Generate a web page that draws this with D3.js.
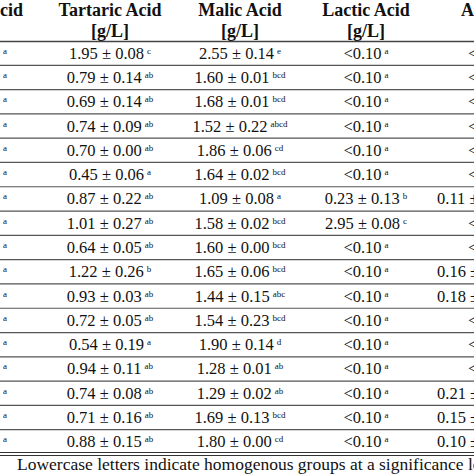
<!DOCTYPE html>
<html><head><meta charset="utf-8">
<script src="https://cdn.jsdelivr.net/npm/d3@7"></script>
<style>body{margin:0;background:#fff}svg{display:block}</style>
</head><body>
<div class="chart"></div>
<script>
const headers = ["cid", "Tartaric Acid", "Malic Acid", "Lactic Acid", "Ace"];
const units = ["", "[g/L]", "[g/L]", "[g/L]", ""];
const firstCol = ["a","a","a","a","a","a","a","a","a","a","a","a","a","a","a","a","a"];
const tartaric = ["1.95 ± 0.08","0.79 ± 0.14","0.69 ± 0.14","0.74 ± 0.09","0.70 ± 0.00","0.45 ± 0.06","0.87 ± 0.22","1.01 ± 0.27","0.64 ± 0.05","1.22 ± 0.26","0.93 ± 0.03","0.72 ± 0.05","0.54 ± 0.19","0.94 ± 0.11","0.74 ± 0.08","0.71 ± 0.16","0.88 ± 0.15"];
const tartaricSup = ["c","ab","ab","ab","ab","a","ab","ab","ab","b","ab","ab","a","ab","ab","ab","ab"];
const malic = ["2.55 ± 0.14","1.60 ± 0.01","1.68 ± 0.01","1.52 ± 0.22","1.86 ± 0.06","1.64 ± 0.02","1.09 ± 0.08","1.58 ± 0.02","1.60 ± 0.00","1.65 ± 0.06","1.44 ± 0.15","1.54 ± 0.23","1.90 ± 0.14","1.28 ± 0.01","1.29 ± 0.02","1.69 ± 0.13","1.80 ± 0.00"];
const malicSup = ["e","bcd","bcd","abcd","cd","bcd","a","bcd","bcd","bcd","abc","bcd","d","ab","ab","bcd","cd"];
const lactic = ["<0.10","<0.10","<0.10","<0.10","<0.10","<0.10","0.23 ± 0.13","2.95 ± 0.08","<0.10","<0.10","<0.10","<0.10","<0.10","<0.10","<0.10","<0.10","<0.10"];
const lacticSup = ["a","a","a","a","a","a","b","c","a","a","a","a","a","a","a","a","a"];
const acetic = ["<0.10","<0.10","<0.10","<0.10","<0.10","<0.10","0.11 ± 0.01","<0.10","<0.10","0.16 ± 0.01","0.18 ± 0.01","<0.10","<0.10","<0.10","0.21 ± 0.01","0.15 ± 0.01","0.10 ± 0.01"];
const footnote = "Lowercase letters indicate homogenous groups at a significance level";

const W = 474, H = 474;
const svg = d3.select('.chart').append('svg').attr('width', W).attr('height', H)
  .style('font-family', '"Liberation Serif", "DejaVu Serif", serif').style('fill', '#111');

const y = d3.scaleBand().domain(d3.range(tartaric.length)).range([41, 454]);
const colX = [-2, 110, 240, 366, 500]; // column centres

// header
headers.forEach((h, i) => {
  svg.append('text').attr('x', i === 0 ? 0 : colX[i]).attr('y', 16)
    .attr('text-anchor', i === 0 ? 'start' : (i === 4 ? 'end' : 'middle'))
    .attr('x', i === 4 ? 490 : (i === 0 ? 0 : colX[i]))
    .style('font-size', '18px').style('font-weight', 'bold').text(h);
  svg.append('text').attr('x', colX[i]).attr('y', 37).attr('text-anchor', 'middle')
    .style('font-size', '18px').style('font-weight', 'bold').text(units[i]);
});

// rules
svg.append('line').attr('x1', 0).attr('x2', W).attr('y1', 41.5).attr('y2', 41.5).attr('stroke', '#444').attr('stroke-width', 1.5);
y.domain().slice(1).forEach(i => {
  svg.append('line').attr('x1', 0).attr('x2', W).attr('y1', y(i)).attr('y2', y(i))
    .attr('stroke', '#555').attr('stroke-width', 1.2);
});
svg.append('line').attr('x1', 0).attr('x2', W).attr('y1', 452.5).attr('y2', 452.5).attr('stroke', '#333').attr('stroke-width', 1);
svg.append('line').attr('x1', 0).attr('x2', W).attr('y1', 455.5).attr('y2', 455.5).attr('stroke', '#333').attr('stroke-width', 1);

function cell(x, i, val, sup, anchor) {
  const t = svg.append('text').attr('x', x).attr('y', y(i) + y.bandwidth() / 2 + 5.5)
    .attr('text-anchor', anchor || 'middle').style('font-size', '16.5px');
  t.append('tspan').text(val);
  if (sup) t.append('tspan').attr('dx', 3).attr('dy', -5).style('font-size', '9px').text(sup);
}
y.domain().forEach(i => {
  cell(0, i, '', firstCol[i], 'start');
  cell(colX[1], i, tartaric[i], tartaricSup[i]);
  cell(colX[2], i, malic[i], malicSup[i]);
  cell(colX[3], i, lactic[i], lacticSup[i]);
  cell(acetic[i].startsWith('<') ? 468 : 437, i, acetic[i], null, 'start');
});

svg.append('text').attr('x', 17).attr('y', 470).style('font-size', '17.5px').text(footnote);
</script>
</body></html>
